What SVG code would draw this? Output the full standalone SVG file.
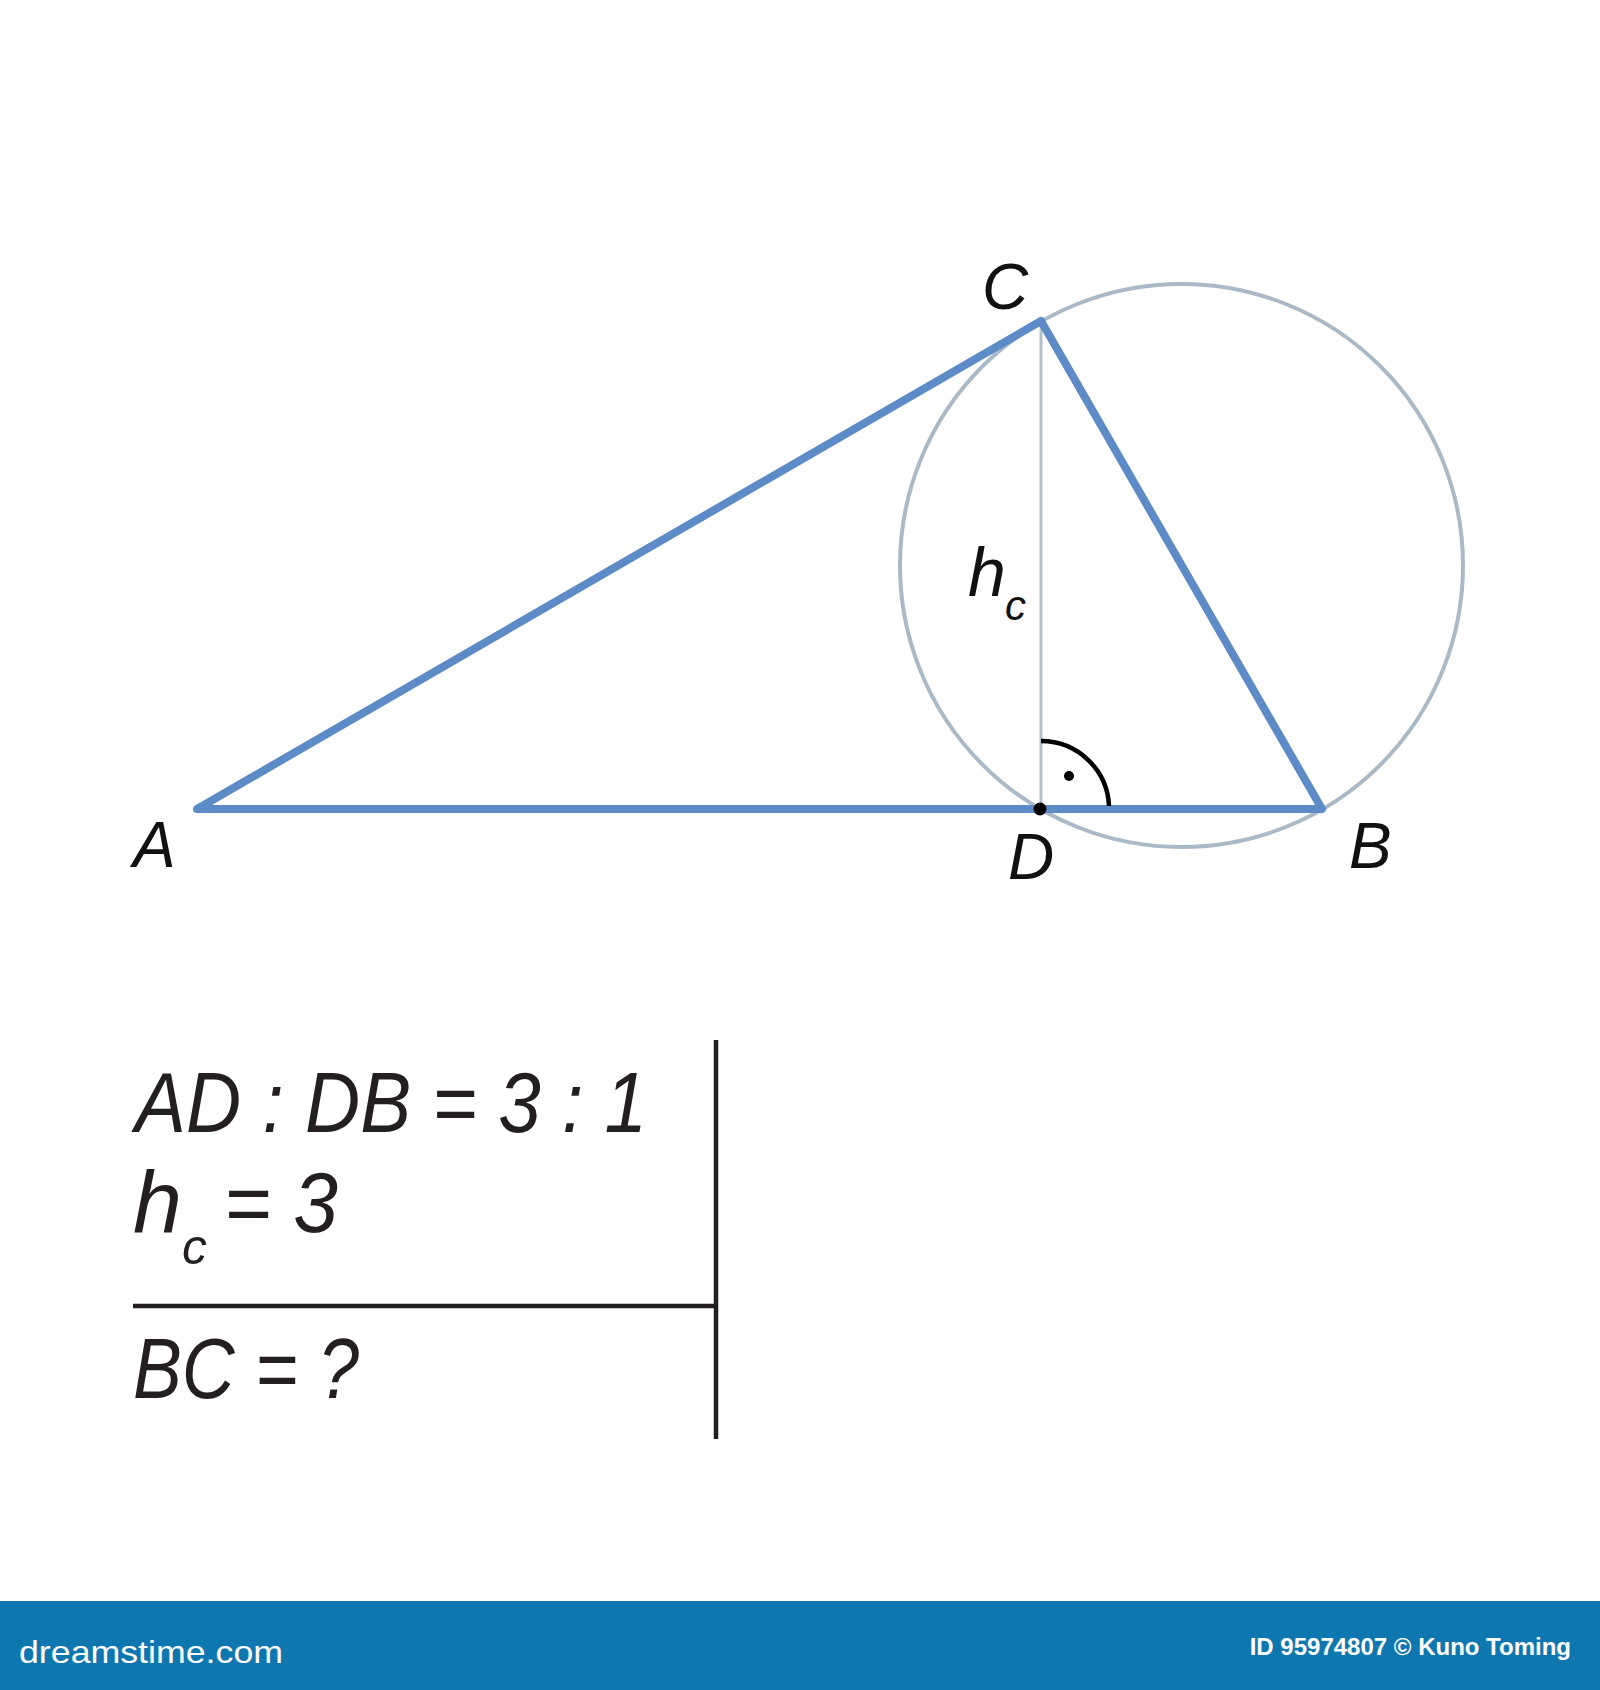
<svg xmlns="http://www.w3.org/2000/svg" width="1600" height="1690" viewBox="0 0 1600 1690">
<style>
.lbl{font-family:"Liberation Sans","Open Sans",sans-serif;font-style:italic;fill:#111;}
.eq{font-family:"Liberation Sans","Open Sans",sans-serif;font-style:italic;fill:#231f20;}
.side{stroke:#5d8bc8;stroke-width:8;stroke-linecap:round;stroke-linejoin:round;fill:none;}
.rule{stroke:#231f20;stroke-width:4.5;}
</style>
<rect x="0" y="0" width="1600" height="1690" fill="#ffffff"/>
<g id="circle">
<circle cx="1181.5" cy="565.5" r="281.5" fill="none" stroke="#a9b9c8" stroke-width="4"/>
</g>
<g id="connectors">
<line x1="1041" y1="321" x2="1041" y2="809" stroke="#b3c0cd" stroke-width="3"/>
<polyline class="side" points="1322,809 197,809 1041,321 1322,809"/>
<path d="M1041,741 A68,68 0 0 1 1109,806" fill="none" stroke="#000" stroke-width="4.5"/>
</g>
<g id="right-angle-dot"><circle cx="1069" cy="776" r="5" fill="#000"/></g>
<g id="point-D"><circle cx="1040" cy="809" r="6.5" fill="#000"/></g>
<g id="label-A"><text class="lbl" x="133" y="867" font-size="64">A</text></g>
<g id="label-B"><text class="lbl" x="1349" y="868" font-size="64">B</text></g>
<g id="label-C"><text class="lbl" x="982" y="309" font-size="64">C</text></g>
<g id="label-D"><text class="lbl" x="1008" y="879" font-size="64">D</text></g>
<g id="label-hc"><text class="lbl" x="968" y="596" font-size="68">h</text><text class="lbl" x="1005" y="620" font-size="42">c</text></g>
<g id="given">
<text class="eq" x="135" y="1132" font-size="86" textLength="512" lengthAdjust="spacingAndGlyphs">AD : DB = 3 : 1</text>
<text class="eq" x="133" y="1232" font-size="88">h</text>
<text class="eq" x="182" y="1264" font-size="50">c</text>
<text class="eq" x="224" y="1232" font-size="86" textLength="114" lengthAdjust="spacingAndGlyphs">= 3</text>
<line class="rule" x1="133" y1="1306" x2="716" y2="1306"/>
<line class="rule" x1="716" y1="1040" x2="716" y2="1439"/>
<text class="eq" x="133" y="1398" font-size="86" textLength="226" lengthAdjust="spacingAndGlyphs">BC = ?</text>
</g>
<g id="footer">
<rect x="0" y="1601" width="1600" height="89" fill="#0f77b0"/>
<text x="19" y="1663" font-family="Liberation Sans, sans-serif" font-size="32" fill="#ffffff" textLength="264" lengthAdjust="spacingAndGlyphs">dreamstime.com</text>
<text x="1571" y="1655" font-family="Liberation Sans, sans-serif" font-size="24" font-weight="bold" fill="#ffffff" text-anchor="end">ID 95974807 © Kuno Toming</text>
</g>
</svg>
